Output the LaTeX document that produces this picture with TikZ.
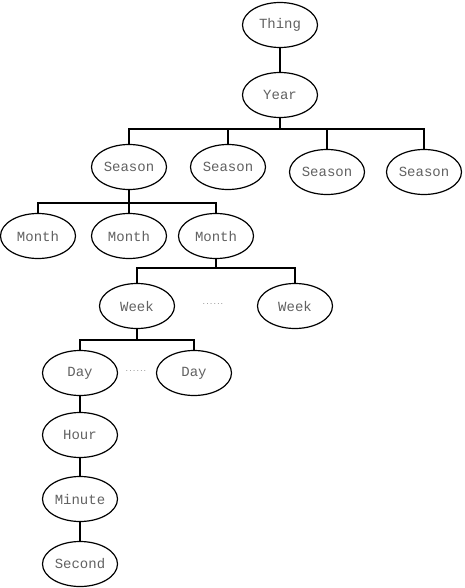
\documentclass[tikz,border=0pt]{standalone}
\usepackage{fontspec}
\setmonofont{Liberation Mono}
\usetikzlibrary{shapes.geometric}
\begin{document}
\begin{tikzpicture}[x=1pt,y=-1pt,
  ell/.style={ellipse,draw=black,line width=1.2pt,minimum width=75pt,minimum height=45pt,inner sep=0pt,
    font=\ttfamily\fontsize{14}{15}\selectfont,text=black!62},
  edge/.style={line width=1.6pt,black},
  dotsnode/.style={font=\ttfamily\fontsize{6}{6}\selectfont,text=black!60,inner sep=0pt}]
\useasboundingbox (0,0) rectangle (464,588);
\node[ell] (thing) at (280,25) {Thing};
\node[ell] (year) at (280,95) {Year};
\node[ell] (s1) at (129,167) {Season};
\node[ell] (s2) at (228,167) {Season};
\node[ell] (s3) at (327,172) {Season};
\node[ell] (s4) at (424,172) {Season};
\node[ell] (m1) at (38,236) {Month};
\node[ell] (m2) at (129,236) {Month};
\node[ell] (m3) at (216,236) {Month};
\node[ell] (w1) at (137,306) {Week};
\node[ell] (w2) at (295,306) {Week};
\node[dotsnode] (wd) at (213,304) {......};
\node[ell] (d1) at (80,373) {Day};
\node[ell] (d2) at (194,373) {Day};
\node[dotsnode] (dd) at (136,371) {......};
\node[ell] (h) at (80,435) {Hour};
\node[ell] (mi) at (80,499) {Minute};
\node[ell] (se) at (80,564) {Second};
\coordinate (b1) at (280,129);
\coordinate (b2) at (129,203);
\coordinate (b3) at (216,268);
\coordinate (b4) at (137,340);
\draw[edge] (thing) -- (year);
\draw[edge] (year.south) -- (b1) -| (s1.north);
\draw[edge] (b1) -| (s2.north);
\draw[edge] (b1) -| (s3.north);
\draw[edge] (b1) -| (s4.north);
\draw[edge] (s1.south) -- (b2) -| (m1.north);
\draw[edge] (b2) -- (m2.north);
\draw[edge] (b2) -| (m3.north);
\draw[edge] (m3.south) -- (b3) -| (w1.north);
\draw[edge] (b3) -| (w2.north);
\draw[edge] (w1.south) -- (b4) -| (d1.north);
\draw[edge] (b4) -| (d2.north);
\draw[edge] (d1) -- (h);
\draw[edge] (h) -- (mi);
\draw[edge] (mi) -- (se);
\end{tikzpicture}
\end{document}
